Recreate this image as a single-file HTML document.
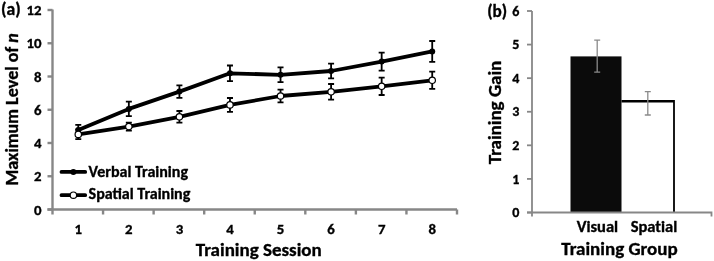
<!DOCTYPE html>
<html><head><meta charset="utf-8"><title>Figure</title>
<style>html,body{margin:0;padding:0;background:#fff;width:714px;height:261px;overflow:hidden}svg{display:block}text{stroke:#000;stroke-width:0.35px;paint-order:stroke}</style>
</head><body>
<svg width="714" height="261" viewBox="0 0 714 261">
<rect width="714" height="261" fill="#fff"></rect>
<g stroke="#878787" stroke-width="2.4" fill="none">
<path d="M52.5,9.5 V214.5"></path>
<path d="M47.5,209.5 H457.0"></path>
<path d="M47.5,209.50 H52.5"></path>
<path d="M47.5,176.25 H52.5"></path>
<path d="M47.5,143.00 H52.5"></path>
<path d="M47.5,109.75 H52.5"></path>
<path d="M47.5,76.50 H52.5"></path>
<path d="M47.5,43.25 H52.5"></path>
<path d="M47.5,10.00 H52.5"></path>
<path d="M103.06,209.5 V214.5"></path>
<path d="M153.62,209.5 V214.5"></path>
<path d="M204.19,209.5 V214.5"></path>
<path d="M254.75,209.5 V214.5"></path>
<path d="M305.31,209.5 V214.5"></path>
<path d="M355.88,209.5 V214.5"></path>
<path d="M406.44,209.5 V214.5"></path>
<path d="M457.00,209.5 V214.5"></path>
</g>
<g font-family="&quot;Carlito&quot;,&quot;Liberation Sans&quot;,sans-serif" font-weight="bold" font-size="14.8" fill="#000" text-anchor="end">
<text x="41.6" y="214.50" textLength="7.50" lengthAdjust="spacingAndGlyphs">0</text>
<text x="41.6" y="181.25" textLength="7.50" lengthAdjust="spacingAndGlyphs">2</text>
<text x="41.6" y="148.00" textLength="7.50" lengthAdjust="spacingAndGlyphs">4</text>
<text x="41.6" y="114.75" textLength="7.50" lengthAdjust="spacingAndGlyphs">6</text>
<text x="41.6" y="81.50" textLength="7.50" lengthAdjust="spacingAndGlyphs">8</text>
<text x="41.6" y="48.25" textLength="15.00" lengthAdjust="spacingAndGlyphs">10</text>
<text x="41.6" y="15.00" textLength="15.00" lengthAdjust="spacingAndGlyphs">12</text>
</g>
<g font-family="&quot;Carlito&quot;,&quot;Liberation Sans&quot;,sans-serif" font-weight="bold" font-size="14.8" fill="#000" text-anchor="middle">
<text x="78.28" y="233.5" textLength="7.50" lengthAdjust="spacingAndGlyphs">1</text>
<text x="128.84" y="233.5" textLength="7.50" lengthAdjust="spacingAndGlyphs">2</text>
<text x="179.41" y="233.5" textLength="7.50" lengthAdjust="spacingAndGlyphs">3</text>
<text x="229.97" y="233.5" textLength="7.50" lengthAdjust="spacingAndGlyphs">4</text>
<text x="280.53" y="233.5" textLength="7.50" lengthAdjust="spacingAndGlyphs">5</text>
<text x="331.09" y="233.5" textLength="7.50" lengthAdjust="spacingAndGlyphs">6</text>
<text x="381.66" y="233.5" textLength="7.50" lengthAdjust="spacingAndGlyphs">7</text>
<text x="432.22" y="233.5" textLength="7.50" lengthAdjust="spacingAndGlyphs">8</text>
</g>
<text x="258.8" y="255.5" font-family="&quot;Carlito&quot;,&quot;Liberation Sans&quot;,sans-serif" font-weight="bold" font-size="19" text-anchor="middle" textLength="125.97" lengthAdjust="spacingAndGlyphs">Training Session</text>
<text transform="translate(18.3,109.3) rotate(-90)" font-family="&quot;Carlito&quot;,&quot;Liberation Sans&quot;,sans-serif" font-weight="bold" font-size="18.1" text-anchor="middle" textLength="152.38" lengthAdjust="spacingAndGlyphs">Maximum Level of <tspan font-style="italic">n</tspan></text>
<text x="1" y="14.8" font-family="&quot;Carlito&quot;,&quot;Liberation Sans&quot;,sans-serif" font-weight="bold" font-size="17.6" textLength="19.66" lengthAdjust="spacingAndGlyphs">(a)</text>
<polyline points="78.28,129.9 128.84,108.9 179.41,91.6 229.97,73.3 280.53,74.8 331.09,71.0 381.66,61.6 432.22,51.4" fill="none" stroke="#000" stroke-width="3.8" stroke-linejoin="round"></polyline>
<polyline points="78.28,134.4 128.84,126.6 179.41,116.8 229.97,104.9 280.53,96.0 331.09,91.8 381.66,86.3 432.22,80.3" fill="none" stroke="#000" stroke-width="3.8" stroke-linejoin="round"></polyline>
<g stroke="#000" stroke-width="1.8" fill="none">
<path d="M78.28,124.90 V134.90 M75.28,124.90 H81.28 M75.28,134.90 H81.28"></path>
<path d="M128.84,101.60 V116.20 M125.84,101.60 H131.84 M125.84,116.20 H131.84"></path>
<path d="M179.41,85.30 V97.90 M176.41,85.30 H182.41 M176.41,97.90 H182.41"></path>
<path d="M229.97,65.50 V81.10 M226.97,65.50 H232.97 M226.97,81.10 H232.97"></path>
<path d="M280.53,67.40 V82.20 M277.53,67.40 H283.53 M277.53,82.20 H283.53"></path>
<path d="M331.09,63.70 V78.30 M328.09,63.70 H334.09 M328.09,78.30 H334.09"></path>
<path d="M381.66,52.60 V70.60 M378.66,52.60 H384.66 M378.66,70.60 H384.66"></path>
<path d="M432.22,41.00 V61.80 M429.22,41.00 H435.22 M429.22,61.80 H435.22"></path>
<path d="M78.28,129.60 V139.20 M75.28,129.60 H81.28 M75.28,139.20 H81.28"></path>
<path d="M128.84,122.60 V130.60 M125.84,122.60 H131.84 M125.84,130.60 H131.84"></path>
<path d="M179.41,111.00 V122.60 M176.41,111.00 H182.41 M176.41,122.60 H182.41"></path>
<path d="M229.97,98.00 V111.80 M226.97,98.00 H232.97 M226.97,111.80 H232.97"></path>
<path d="M280.53,89.70 V102.30 M277.53,89.70 H283.53 M277.53,102.30 H283.53"></path>
<path d="M331.09,84.00 V99.60 M328.09,84.00 H334.09 M328.09,99.60 H334.09"></path>
<path d="M381.66,77.60 V95.00 M378.66,77.60 H384.66 M378.66,95.00 H384.66"></path>
<path d="M432.22,71.70 V88.90 M429.22,71.70 H435.22 M429.22,88.90 H435.22"></path>
</g>
<circle cx="78.28" cy="129.9" r="3" fill="#000"></circle>
<circle cx="128.84" cy="108.9" r="3" fill="#000"></circle>
<circle cx="179.41" cy="91.6" r="3" fill="#000"></circle>
<circle cx="229.97" cy="73.3" r="3" fill="#000"></circle>
<circle cx="280.53" cy="74.8" r="3" fill="#000"></circle>
<circle cx="331.09" cy="71.0" r="3" fill="#000"></circle>
<circle cx="381.66" cy="61.6" r="3" fill="#000"></circle>
<circle cx="432.22" cy="51.4" r="3" fill="#000"></circle>
<circle cx="78.28" cy="134.4" r="3.2" fill="#fff" stroke="#000" stroke-width="1.2"></circle>
<circle cx="128.84" cy="126.6" r="3.2" fill="#fff" stroke="#000" stroke-width="1.2"></circle>
<circle cx="179.41" cy="116.8" r="3.2" fill="#fff" stroke="#000" stroke-width="1.2"></circle>
<circle cx="229.97" cy="104.9" r="3.2" fill="#fff" stroke="#000" stroke-width="1.2"></circle>
<circle cx="280.53" cy="96.0" r="3.2" fill="#fff" stroke="#000" stroke-width="1.2"></circle>
<circle cx="331.09" cy="91.8" r="3.2" fill="#fff" stroke="#000" stroke-width="1.2"></circle>
<circle cx="381.66" cy="86.3" r="3.2" fill="#fff" stroke="#000" stroke-width="1.2"></circle>
<circle cx="432.22" cy="80.3" r="3.2" fill="#fff" stroke="#000" stroke-width="1.2"></circle>
<path d="M61.5,171.9 H85.2 M61.5,195.2 H85.2" stroke="#000" stroke-width="3.8" stroke-linecap="round"></path>
<circle cx="73.4" cy="171.9" r="3" fill="#000"></circle>
<circle cx="73.4" cy="195.2" r="3.2" fill="#fff" stroke="#000" stroke-width="1.2"></circle>
<g font-family="&quot;Carlito&quot;,&quot;Liberation Sans&quot;,sans-serif" font-weight="bold" font-size="16" fill="#000">
<text x="88.6" y="176.9" textLength="99.38" lengthAdjust="spacingAndGlyphs">Verbal Training</text>
<text x="88.6" y="199.3" textLength="101.67" lengthAdjust="spacingAndGlyphs">Spatial Training</text>
</g>
<path d="M621.5,101.2 H674.0" stroke="#000" stroke-width="2.4" fill="none"></path>
<path d="M674.0,100.0 V212.5" stroke="#000" stroke-width="1.8" fill="none"></path>
<rect x="570.5" y="56.4" width="51" height="156.10" fill="#0b0b0b"></rect>
<g stroke="#8a8a8a" stroke-width="1.3" fill="none">
<path d="M597.2,40.1 V72.1 M594.2,40.1 H600.2 M594.2,72.1 H600.2"></path>
<path d="M647.8,91.7 V115 M644.8,91.7 H650.8 M644.8,115 H650.8"></path>
</g>
<g stroke="#878787" stroke-width="1.8" fill="none">
<path d="M532.0,11 V216.5"></path>
<path d="M527,212.5 H711.5 V216.5"></path>
<path d="M527,212.50 H532.0"></path>
<path d="M527,178.92 H532.0"></path>
<path d="M527,145.33 H532.0"></path>
<path d="M527,111.75 H532.0"></path>
<path d="M527,78.17 H532.0"></path>
<path d="M527,44.58 H532.0"></path>
<path d="M527,11.00 H532.0"></path>
</g>
<g font-family="&quot;Carlito&quot;,&quot;Liberation Sans&quot;,sans-serif" font-weight="bold" font-size="14" fill="#000" text-anchor="end">
<text x="519.3" y="217.20" textLength="7.11" lengthAdjust="spacingAndGlyphs">0</text>
<text x="519.3" y="183.62" textLength="7.11" lengthAdjust="spacingAndGlyphs">1</text>
<text x="519.3" y="150.03" textLength="7.11" lengthAdjust="spacingAndGlyphs">2</text>
<text x="519.3" y="116.45" textLength="7.11" lengthAdjust="spacingAndGlyphs">3</text>
<text x="519.3" y="82.87" textLength="7.11" lengthAdjust="spacingAndGlyphs">4</text>
<text x="519.3" y="49.28" textLength="7.11" lengthAdjust="spacingAndGlyphs">5</text>
<text x="519.3" y="15.70" textLength="7.11" lengthAdjust="spacingAndGlyphs">6</text>
</g>
<g font-family="&quot;Carlito&quot;,&quot;Liberation Sans&quot;,sans-serif" font-weight="bold" font-size="16.5" fill="#000" text-anchor="middle">
<text x="597.4" y="231.8" textLength="41.45" lengthAdjust="spacingAndGlyphs">Visual</text>
<text x="654" y="231.8" style="font-variant-ligatures:none" textLength="46.63" lengthAdjust="spacingAndGlyphs">Spatial</text>
</g>
<text x="619.5" y="254.7" font-family="&quot;Carlito&quot;,&quot;Liberation Sans&quot;,sans-serif" font-weight="bold" font-size="19" text-anchor="middle" textLength="116.42" lengthAdjust="spacingAndGlyphs">Training Group</text>
<text transform="translate(500.7,112.5) rotate(-90)" font-family="&quot;Carlito&quot;,&quot;Liberation Sans&quot;,sans-serif" font-weight="bold" font-size="19" text-anchor="middle" textLength="103.53" lengthAdjust="spacingAndGlyphs">Training Gain</text>
<text x="487.2" y="16.9" font-family="&quot;Carlito&quot;,&quot;Liberation Sans&quot;,sans-serif" font-weight="bold" font-size="17.2" textLength="19.94" lengthAdjust="spacingAndGlyphs">(b)</text>
</svg>
</body></html>
